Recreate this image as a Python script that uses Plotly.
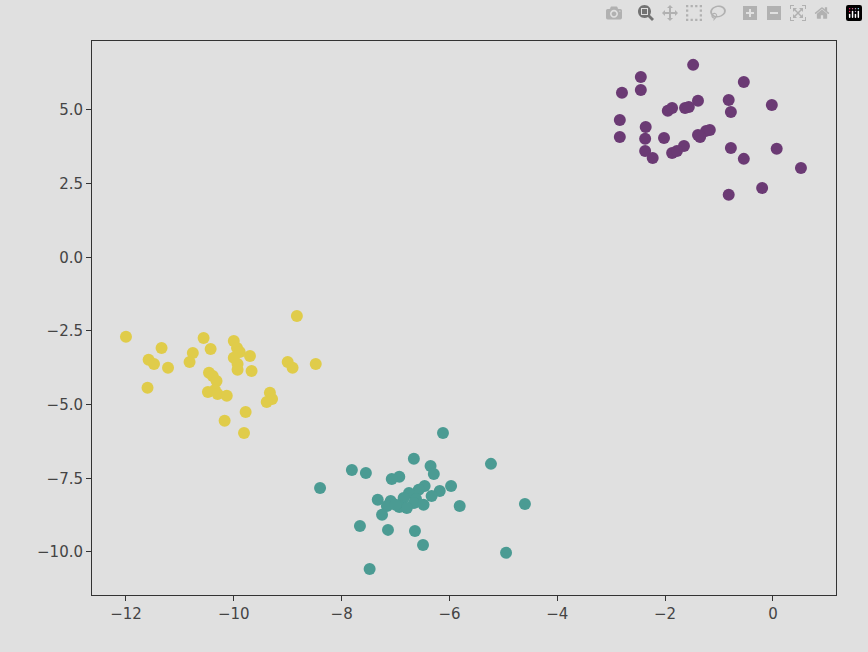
import plotly.graph_objects as go

purple_x = [-1.48,-2.45,-0.54,-2.80,-2.45,-1.39,-0.82,-0.02,-1.95,-1.87,-1.63,-1.56,-0.78,-2.36,-2.84,-2.37,-2.84,-2.02,-1.24,-1.17,-1.35,-1.39,-1.65,-1.87,-1.78,-2.37,-2.23,-0.78,0.07,-0.54,0.52,-0.20,-0.82]
purple_y = [6.53,6.12,5.95,5.58,5.68,5.31,5.34,5.17,4.97,5.07,5.07,5.10,4.93,4.42,4.66,4.02,4.08,4.05,4.29,4.32,4.08,4.15,3.78,3.54,3.61,3.61,3.37,3.71,3.68,3.34,3.03,2.35,2.12]

yellow_x = [-12.00,-8.83,-11.34,-11.58,-11.48,-11.22,-10.76,-10.82,-10.56,-10.43,-10.00,-9.94,-9.89,-9.70,-10.00,-9.93,-9.67,-10.46,-10.39,-10.32,-10.35,-10.48,-10.30,-10.13,-11.60,-9.00,-8.91,-8.48,-9.33,-9.29,-9.39,-9.78,-10.17,-9.81,-9.93]
yellow_y = [-2.70,-1.99,-3.08,-3.48,-3.62,-3.75,-3.25,-3.55,-2.74,-3.11,-2.84,-3.08,-3.21,-3.35,-3.41,-3.82,-3.86,-3.92,-4.03,-4.20,-4.50,-4.57,-4.64,-4.70,-4.43,-3.55,-3.75,-3.62,-4.60,-4.81,-4.91,-5.25,-5.55,-5.96,-3.62]

teal_x = [-6.12,-6.66,-5.23,-6.35,-7.81,-7.55,-6.29,-6.93,-7.07,-5.97,-6.46,-6.57,-8.40,-6.18,-6.75,-7.33,-7.09,-6.85,-6.62,-6.33,-5.81,-4.60,-6.90,-6.66,-6.48,-7.16,-6.93,-7.25,-7.66,-7.14,-6.64,-6.49,-4.95,-7.48,-6.79,-7.00]
teal_y = [-5.96,-6.84,-7.01,-7.08,-7.22,-7.32,-7.35,-7.45,-7.52,-7.76,-7.76,-7.89,-7.83,-7.93,-8.00,-8.23,-8.27,-8.17,-8.20,-8.10,-8.44,-8.37,-8.44,-8.34,-8.40,-8.44,-8.47,-8.74,-9.12,-9.25,-9.29,-9.76,-10.03,-10.58,-8.51,-8.40]

x_ticks = [-12, -10, -8, -6, -4, -2, 0]
x_labels = ["−12", "−10", "−8", "−6", "−4", "−2", "0"]
y_ticks = [-10, -7.5, -5, -2.5, 0, 2.5, 5]
y_labels = ["−10.0", "−7.5", "−5.0", "−2.5", "0.0", "2.5", "5.0"]

fig = go.Figure()
for xs, ys, c in [(purple_x, purple_y, "#6b3a74"), (yellow_x, yellow_y, "#e0cc4a"), (teal_x, teal_y, "#4b9b93")]:
    fig.add_trace(go.Scatter(x=xs, y=ys, mode="markers", marker=dict(color=c, size=12), showlegend=False))

axis = dict(showgrid=False, zeroline=False, showline=True, mirror=True, linecolor="#333", linewidth=1,
            ticks="outside", ticklen=5, tickcolor="#333", tickfont=dict(family="DejaVu Sans", size=15, color="#444"))
fig.update_layout(
    width=868, height=652, paper_bgcolor="#e0e0e0", plot_bgcolor="#e0e0e0",
    margin=dict(l=92, r=32, t=41, b=57),
    xaxis=dict(range=[-12.63, 1.17], tickvals=x_ticks, ticktext=x_labels, **axis),
    yaxis=dict(range=[-11.46, 7.34], tickvals=y_ticks, ticktext=y_labels, **axis),
)
fig.write_html("out.html")
with open("out.html", encoding="utf-8") as f:
    html = f.read()
html = html.replace("<body>", '<body style="margin:0;background:#e0e0e0">', 1)
with open("out.html", "w", encoding="utf-8") as f:
    f.write(html)
